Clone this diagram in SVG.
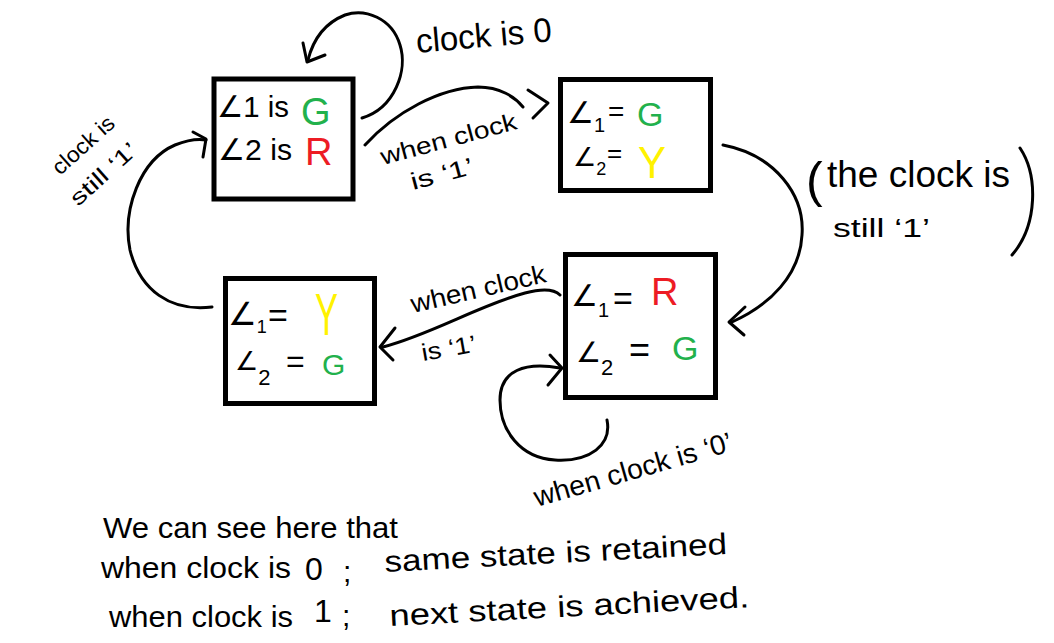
<svg xmlns="http://www.w3.org/2000/svg" width="1054" height="643" viewBox="0 0 1054 643">
<style>
.box{fill:none;stroke:#000;stroke-width:5}
.c{fill:none;stroke:#000;stroke-width:3;stroke-linecap:round;stroke-linejoin:round}
text{font-family:"Liberation Sans","DejaVu Sans",sans-serif;fill:#000}
.g{fill:#22b14c}
.r{fill:#ed1c24}
.y{fill:#fff200}
</style>
<rect width="1054" height="643" fill="#fff"/>

<g id="state1">
<rect class="box" x="214" y="79" width="139" height="120"/>
<text x="217" y="117" font-size="30" textLength="72" lengthAdjust="spacingAndGlyphs">∠1 is</text>
<text x="301" y="125" font-size="38" class="g">G</text>
<text x="218" y="160" font-size="30" textLength="74" lengthAdjust="spacingAndGlyphs">∠2 is</text>
<text x="305" y="165" font-size="38" class="r">R</text>
</g>

<g id="state2">
<rect class="box" x="560.5" y="79.5" width="150" height="111"/>
<text x="567" y="123" font-size="30">∠<tspan font-size="20" dy="9">1</tspan></text>
<text x="608" y="121" font-size="28">=</text>
<text x="637" y="126" font-size="34" class="g">G</text>
<text x="573" y="166" font-size="26">∠<tspan font-size="18" dy="9">2</tspan></text>
<text x="607" y="162" font-size="26">=</text>
<text x="638" y="178" font-size="44" class="y" textLength="28" lengthAdjust="spacingAndGlyphs">Y</text>
</g>

<g id="state3">
<rect class="box" x="565.5" y="254.5" width="150" height="143"/>
<text x="571" y="306" font-size="30">∠<tspan font-size="20" dy="11">1</tspan></text>
<text x="613" y="310" font-size="34">=</text>
<text x="651" y="305" font-size="38" class="r">R</text>
<text x="576" y="362" font-size="28">∠<tspan font-size="22" dy="13">2</tspan></text>
<text x="629" y="362" font-size="36">=</text>
<text x="672" y="360" font-size="34" class="g">G</text>
</g>

<g id="state4">
<rect class="box" x="225.5" y="278.5" width="149" height="125"/>
<text x="228" y="325" font-size="32">∠<tspan font-size="18" dy="8">1</tspan></text>
<text x="268" y="327" font-size="34">=</text>
<text x="315" y="335" font-size="60" class="y" textLength="23" lengthAdjust="spacingAndGlyphs">Y</text>
<text x="235" y="370" font-size="26">∠<tspan font-size="22" dy="15">2</tspan></text>
<text x="286" y="372" font-size="32">=</text>
<text x="322" y="375" font-size="30" class="g">G</text>
</g>

<g id="connectors">
<path class="c" d="M362,118 C395,108 408,70 400,45 C392,18 365,8 345,15 C325,23 313,40 308,60"/>
<polyline class="c" points="325,55 307,62 303,43"/>
<path class="c" d="M365,145 C395,112 440,88 478,87 C500,87 515,97 523,107"/>
<polyline class="c" points="528,90 548,103 533,118"/>
<path class="c" d="M723,145 C775,155 805,195 802,235 C800,275 770,305 732,322"/>
<polyline class="c" points="745,307 729,322 744,335"/>
<path class="c" d="M560,295 C553,288 540,289 525,293 C480,305 430,335 383,347"/>
<polyline class="c" points="395,328 380,347 393,360"/>
<path class="c" d="M607,420 C612,445 590,462 555,460 C520,458 500,430 500,400 C500,370 525,362 560,368"/>
<polyline class="c" points="550,355 562,368 548,385"/>
<path class="c" d="M212,307 C170,312 140,290 130,250 C122,210 140,160 175,145 C190,139 200,139 206,140"/>
<polyline class="c" points="193,132 206,139 203,157"/>
<path class="c" d="M1020,148 C1038,175 1038,225 1012,255"/>
</g>

<g id="labels">
<text x="417" y="53" font-size="34" textLength="136" lengthAdjust="spacingAndGlyphs" transform="rotate(-5 417 53)">clock is 0</text>
<text x="383" y="165" font-size="24" textLength="140" lengthAdjust="spacingAndGlyphs" transform="rotate(-15 383 165)">when clock</text>
<text x="413" y="190" font-size="24" textLength="64" lengthAdjust="spacingAndGlyphs" transform="rotate(-15 413 190)">is ‘1’</text>
<text x="413" y="313" font-size="26" textLength="138" lengthAdjust="spacingAndGlyphs" transform="rotate(-13 413 313)">when clock</text>
<text x="423" y="361" font-size="24" textLength="55" lengthAdjust="spacingAndGlyphs" transform="rotate(-10 423 361)">is ‘1’</text>
<text x="537" y="507" font-size="28" textLength="205" lengthAdjust="spacingAndGlyphs" transform="rotate(-16 537 507)">when clock is ‘0’</text>
<text x="60" y="176" font-size="22" textLength="76" lengthAdjust="spacingAndGlyphs" transform="rotate(-42 60 176)">clock is</text>
<text x="78" y="207" font-size="22" textLength="82" lengthAdjust="spacingAndGlyphs" transform="rotate(-42 78 207)">still ‘1’</text>
<text x="806" y="197" font-size="50">(</text>
<text x="827" y="187" font-size="36" textLength="183" lengthAdjust="spacingAndGlyphs">the clock is</text>
<text x="833" y="237" font-size="26" textLength="97" lengthAdjust="spacingAndGlyphs">still ‘1’</text>
</g>

<g id="note">
<text x="103" y="538" font-size="30" textLength="295" lengthAdjust="spacingAndGlyphs">We can see here that</text>
<text x="101" y="578" font-size="30" textLength="190" lengthAdjust="spacingAndGlyphs">when clock is</text>
<text x="305" y="580" font-size="32">0</text>
<text x="343" y="582" font-size="30">;</text>
<text x="385" y="572" font-size="30" textLength="343" lengthAdjust="spacingAndGlyphs" transform="rotate(-3 385 572)">same state is retained</text>
<text x="109" y="627" font-size="30" textLength="184" lengthAdjust="spacingAndGlyphs">when clock is</text>
<text x="314" y="622" font-size="32">1</text>
<text x="342" y="626" font-size="30">;</text>
<text x="390" y="626" font-size="30" textLength="360" lengthAdjust="spacingAndGlyphs" transform="rotate(-3 390 626)">next state is achieved.</text>
</g>
</svg>
